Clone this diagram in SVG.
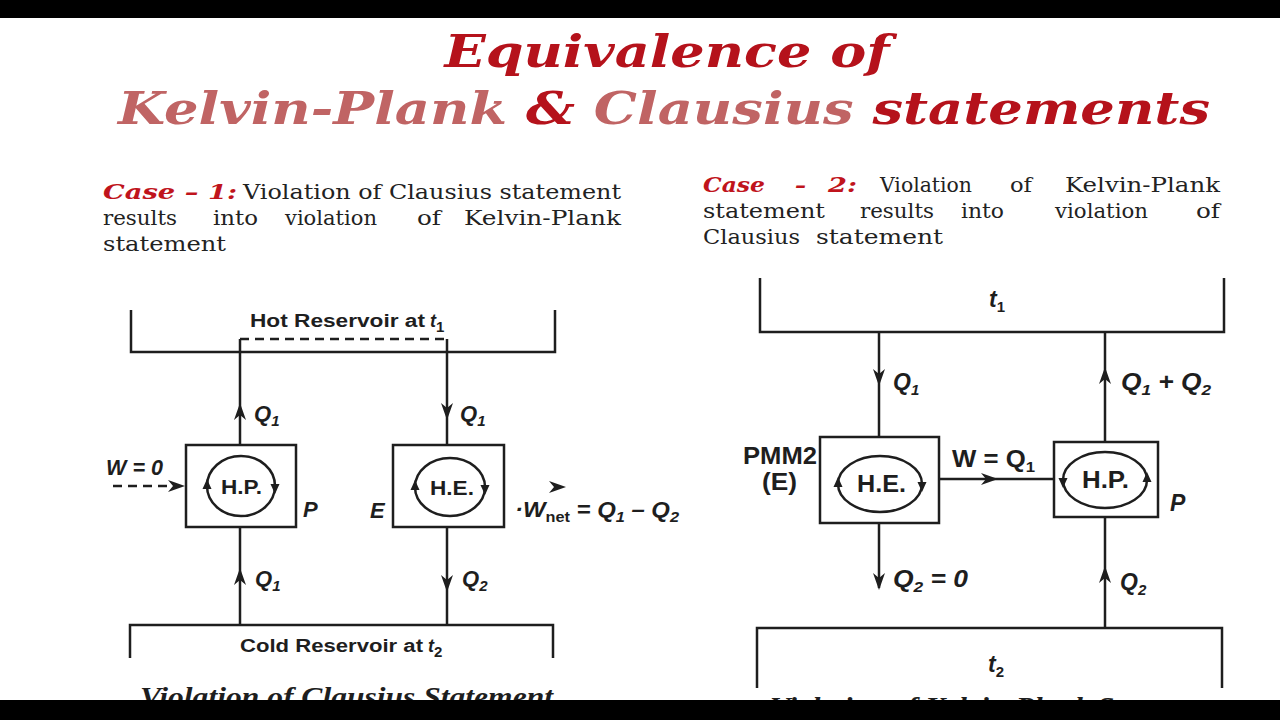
<svg xmlns="http://www.w3.org/2000/svg" xmlns:xlink="http://www.w3.org/1999/xlink" width="1280" height="720" viewBox="0 0 1280 720">
<style>
.title{font-family:"DejaVu Serif","Liberation Serif",serif;font-weight:bold;font-style:italic;font-size:44px}
.dark{fill:#b5121b}
.rose{fill:#c06464}
.body{font-family:"DejaVu Serif","Liberation Serif",serif;font-size:20px;fill:#222}
.case{font-family:"DejaVu Serif","Liberation Serif",serif;font-size:20px;font-weight:bold;font-style:italic;fill:#c0141c}
.ln{stroke:#1e1e1e;stroke-width:2.5;fill:none}
.dash{stroke:#1e1e1e;stroke-width:2.5;fill:none;stroke-dasharray:9 6}
.box{stroke:#1e1e1e;stroke-width:2.5;fill:#fff}
.lbl{font-family:"Liberation Sans",Arial,sans-serif;font-weight:bold;font-size:21px;fill:#1e1e1e}
.lbli{font-family:"Liberation Sans",Arial,sans-serif;font-weight:bold;font-style:italic;font-size:22px;fill:#1e1e1e}
.big{font-size:23px}
.res{font-family:"Liberation Sans",Arial,sans-serif;font-weight:bold;font-size:18px;fill:#1e1e1e}
.sub{font-size:15px}
.ah{fill:#1e1e1e}
.cap{font-family:"Liberation Serif",serif;font-weight:bold;font-style:italic;font-size:28px;fill:#1e1e1e}
</style>
<defs>
<path id="aUp" class="ah" d="M0,0 L6,17 L0,12 L-6,17 Z"/>
<path id="aDown" class="ah" d="M0,0 L6,-17 L0,-12 L-6,-17 Z"/>
<path id="aRight" class="ah" d="M0,0 L-17,-6 L-12,0 L-17,6 Z"/>
<path id="cUp" class="ah" d="M0,0 L4.5,10 L-4.5,10 Z"/>
<path id="cDown" class="ah" d="M0,0 L4.5,-10 L-4.5,-10 Z"/>
<clipPath id="capclip"><rect x="0" y="0" width="1280" height="700"/></clipPath>
</defs>
<rect x="0" y="0" width="1280" height="720" fill="#fff"/>

<g id="title">
<text class="title dark" x="667" y="67" text-anchor="middle" textLength="445" lengthAdjust="spacingAndGlyphs">Equivalence of</text>
<text class="title" x="118" y="124" textLength="1092" lengthAdjust="spacingAndGlyphs"><tspan class="rose">Kelvin-Plank </tspan><tspan class="dark">&amp; </tspan><tspan class="rose">Clausius </tspan><tspan class="dark">statements</tspan></text>
</g>

<g id="case1">
<text class="case" x="103" y="199" textLength="134" lengthAdjust="spacingAndGlyphs">Case – 1:</text>
<text class="body" x="243" y="199" textLength="378" lengthAdjust="spacingAndGlyphs">Violation of Clausius statement</text>
<text class="body" x="103" y="225" textLength="74" lengthAdjust="spacingAndGlyphs">results</text>
<text class="body" x="213" y="225" textLength="45" lengthAdjust="spacingAndGlyphs">into</text>
<text class="body" x="285" y="225" textLength="92" lengthAdjust="spacingAndGlyphs">violation</text>
<text class="body" x="417" y="225" textLength="24" lengthAdjust="spacingAndGlyphs">of</text>
<text class="body" x="464" y="225" textLength="157" lengthAdjust="spacingAndGlyphs">Kelvin-Plank</text>
<text class="body" x="103" y="251" textLength="123" lengthAdjust="spacingAndGlyphs">statement</text>
</g>

<g id="case2">
<text class="case" x="703" y="192" textLength="62" lengthAdjust="spacingAndGlyphs">Case</text>
<text class="case" x="795" y="192" textLength="11" lengthAdjust="spacingAndGlyphs">–</text>
<text class="case" x="828" y="192" textLength="29" lengthAdjust="spacingAndGlyphs">2:</text>
<text class="body" x="880" y="192" textLength="92" lengthAdjust="spacingAndGlyphs">Violation</text>
<text class="body" x="1010" y="192" textLength="22" lengthAdjust="spacingAndGlyphs">of</text>
<text class="body" x="1065" y="192" textLength="155" lengthAdjust="spacingAndGlyphs">Kelvin-Plank</text>
<text class="body" x="703" y="218" textLength="122" lengthAdjust="spacingAndGlyphs">statement</text>
<text class="body" x="860" y="218" textLength="74" lengthAdjust="spacingAndGlyphs">results</text>
<text class="body" x="961" y="218" textLength="43" lengthAdjust="spacingAndGlyphs">into</text>
<text class="body" x="1055" y="218" textLength="93" lengthAdjust="spacingAndGlyphs">violation</text>
<text class="body" x="1196" y="218" textLength="24" lengthAdjust="spacingAndGlyphs">of</text>
<text class="body" x="703" y="244" textLength="97" lengthAdjust="spacingAndGlyphs">Clausius</text>
<text class="body" x="816" y="244" textLength="127" lengthAdjust="spacingAndGlyphs">statement</text>
</g>

<!-- Left diagram -->
<g id="hot1">
<path class="ln" d="M131,310 V352 H555 V310"/>
<text class="res" x="250" y="327" textLength="175" lengthAdjust="spacingAndGlyphs">Hot Reservoir at</text>
<text class="res" x="430" y="327" font-style="italic" font-size="20">t<tspan class="sub" dy="5" font-style="normal">1</tspan></text>
</g>
<g id="cold1">
<path class="ln" d="M130,658 V625 H553 V658"/>
<text class="res" x="240" y="652" textLength="183" lengthAdjust="spacingAndGlyphs">Cold Reservoir at</text>
<text class="res" x="428" y="652" font-style="italic" font-size="20">t<tspan class="sub" dy="5" font-style="normal">2</tspan></text>
</g>
<g id="hp1">
<rect class="box" x="186" y="445" width="110" height="82"/>
<ellipse class="ln" cx="241" cy="486" rx="34" ry="30"/>
<use xlink:href="#cUp" x="207" y="479"/>
<use xlink:href="#cDown" x="275" y="494"/>
<text class="lbl" x="221" y="494" textLength="41" lengthAdjust="spacingAndGlyphs">H.P.</text>
<text class="lbli" x="303" y="517">P</text>
</g>
<g id="he1">
<rect class="box" x="393" y="445" width="111" height="82"/>
<ellipse class="ln" cx="450" cy="487" rx="35" ry="29"/>
<use xlink:href="#cUp" x="415" y="480"/>
<use xlink:href="#cDown" x="485" y="495"/>
<text class="lbl" x="430" y="495" textLength="44" lengthAdjust="spacingAndGlyphs">H.E.</text>
<text class="lbli" x="370" y="518">E</text>
</g>
<g id="connectors1">
<path class="dash" d="M240,339 H447"/>
<path class="ln" d="M240,339 V445"/>
<path class="ln" d="M447,339 V445"/>
<use xlink:href="#aUp" x="240" y="403"/>
<use xlink:href="#aDown" x="447" y="420"/>
<path class="ln" d="M240,527 V625"/>
<path class="ln" d="M447,527 V625"/>
<use xlink:href="#aUp" x="240" y="568"/>
<use xlink:href="#aDown" x="447" y="592"/>
<path class="dash" d="M113,486 H176" stroke-width="1.8" stroke-dasharray="6 4"/>
<use xlink:href="#aRight" x="185" y="486"/>
<use xlink:href="#aRight" x="566" y="487"/>
<text class="lbli" x="254" y="421">Q<tspan class="sub" dy="5">1</tspan></text>
<text class="lbli" x="460" y="421">Q<tspan class="sub" dy="5">1</tspan></text>
<text class="lbli" x="255" y="586">Q<tspan class="sub" dy="5">1</tspan></text>
<text class="lbli" x="462" y="586">Q<tspan class="sub" dy="5">2</tspan></text>
<text class="lbli" x="106" y="475" textLength="57" lengthAdjust="spacingAndGlyphs">W = 0</text>
<text class="lbli" x="515" y="517" textLength="164" lengthAdjust="spacingAndGlyphs">·W<tspan class="sub" dy="5" font-style="normal" font-size="17">net</tspan><tspan dy="-5"> = Q</tspan><tspan class="sub" dy="5">1</tspan><tspan dy="-5"> – Q</tspan><tspan class="sub" dy="5">2</tspan></text>
</g>
<text class="cap" x="140" y="706" clip-path="url(#capclip)" textLength="413" lengthAdjust="spacingAndGlyphs">Violation of Clausius Statement</text>

<!-- Right diagram -->
<g id="hot2">
<path class="ln" d="M760,278 V332 H1224 V278"/>
<text class="lbli big" x="989" y="307">t<tspan class="sub" dy="5" font-style="normal">1</tspan></text>
</g>
<g id="cold2">
<path class="ln" d="M757,688 V628 H1222 V688"/>
<text class="lbli big" x="988" y="672">t<tspan class="sub" dy="5" font-style="normal">2</tspan></text>
</g>
<g id="he2">
<rect class="box" x="820" y="437" width="119" height="86"/>
<ellipse class="ln" cx="880" cy="484" rx="42" ry="28"/>
<use xlink:href="#cUp" x="838" y="477"/>
<use xlink:href="#cDown" x="922" y="492"/>
<text class="lbl big" x="857" y="492" textLength="49" lengthAdjust="spacingAndGlyphs">H.E.</text>
<text class="lbl big" x="743" y="464" textLength="74" lengthAdjust="spacingAndGlyphs">PMM2</text>
<text class="lbl big" x="762" y="490" textLength="35" lengthAdjust="spacingAndGlyphs">(E)</text>
</g>
<g id="hp2">
<rect class="box" x="1054" y="442" width="104" height="75"/>
<ellipse class="ln" cx="1105" cy="480" rx="42" ry="28"/>
<use xlink:href="#cDown" x="1063" y="488"/>
<use xlink:href="#cUp" x="1147" y="472"/>
<text class="lbl big" x="1082" y="488" textLength="47" lengthAdjust="spacingAndGlyphs">H.P.</text>
<text class="lbli big" x="1170" y="511">P</text>
</g>
<g id="connectors2">
<path class="ln" d="M879,332 V437"/>
<use xlink:href="#aDown" x="879" y="386"/>
<path class="ln" d="M1105,332 V442"/>
<use xlink:href="#aUp" x="1105" y="367"/>
<path class="ln" d="M939,479 H1054" stroke-width="2"/>
<use xlink:href="#aRight" x="998" y="479"/>
<path class="ln" d="M879,523 V588"/>
<use xlink:href="#aDown" x="879" y="590"/>
<path class="ln" d="M1105,517 V628"/>
<use xlink:href="#aUp" x="1105" y="566"/>
<text class="lbli big" x="893" y="390">Q<tspan class="sub" dy="5">1</tspan></text>
<text class="lbli big" x="1121" y="390" textLength="90" lengthAdjust="spacingAndGlyphs">Q<tspan class="sub" dy="5">1</tspan><tspan dy="-5"> + Q</tspan><tspan class="sub" dy="5">2</tspan></text>
<text class="lbl big" x="952" y="467" textLength="83" lengthAdjust="spacingAndGlyphs">W = Q<tspan class="sub" dy="5">1</tspan></text>
<text class="lbli big" x="893" y="587" textLength="75" lengthAdjust="spacingAndGlyphs">Q<tspan class="sub" dy="5">2</tspan><tspan dy="-5"> = 0</tspan></text>
<text class="lbli big" x="1120" y="590">Q<tspan class="sub" dy="5">2</tspan></text>
</g>
<text class="cap" x="770" y="716" clip-path="url(#capclip)" textLength="452" lengthAdjust="spacingAndGlyphs">Violation of Kelvin-Plank Statement</text>

<rect x="0" y="0" width="1280" height="18" fill="#000"/>
<rect x="0" y="700" width="1280" height="20" fill="#000"/>
</svg>
